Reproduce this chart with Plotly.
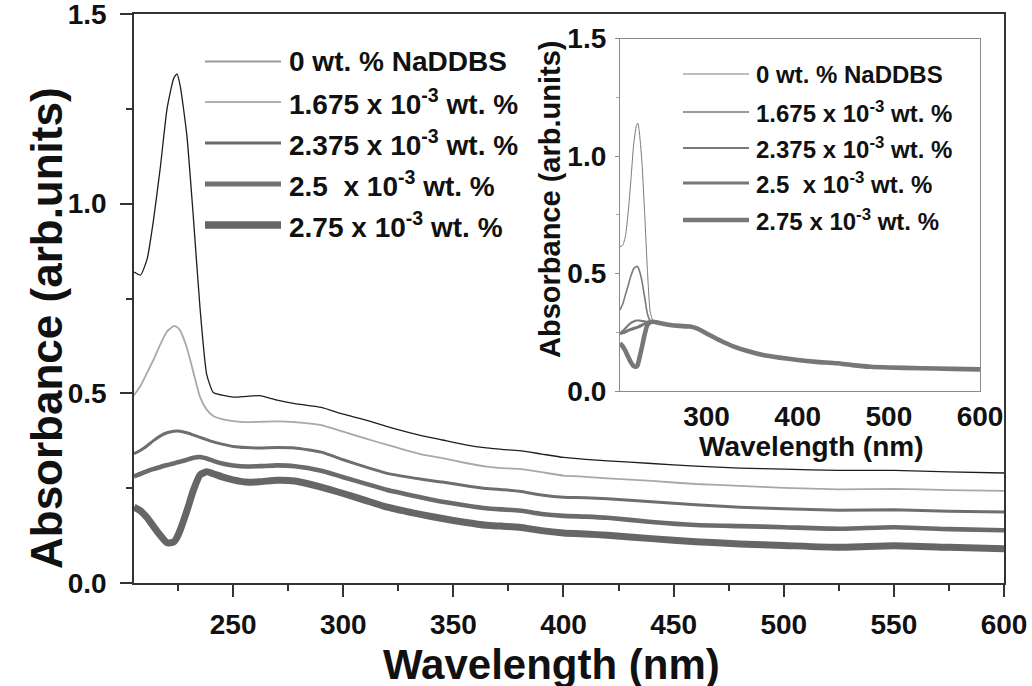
import plotly.graph_objects as go

# ---------------- data ----------------
wavelength = [205, 208, 211, 214, 217, 220, 223, 224.5, 226, 229, 232, 235, 238, 241, 245,
              250, 256, 262, 270, 278, 290, 300, 310, 320, 335, 345, 355, 365, 372, 380,
              390, 400, 410, 420, 440, 460, 480, 500, 525, 550, 575, 600]

abs_0 = [0.82, 0.812, 0.855, 0.963, 1.098, 1.25, 1.33, 1.342, 1.31, 1.18, 0.96, 0.723, 0.55, 0.502, 0.495,
         0.49, 0.492, 0.494, 0.482, 0.473, 0.463, 0.445, 0.43, 0.412, 0.389, 0.377, 0.365, 0.356, 0.352, 0.349,
         0.340, 0.331, 0.326, 0.322, 0.315, 0.308, 0.303, 0.300, 0.297, 0.297, 0.293, 0.290]
abs_1675 = [0.495, 0.52, 0.555, 0.59, 0.63, 0.663, 0.677, 0.675, 0.665, 0.62, 0.555, 0.49, 0.457, 0.44, 0.432,
            0.427, 0.424, 0.425, 0.426, 0.424, 0.416, 0.399, 0.381, 0.364, 0.340, 0.329, 0.317, 0.307, 0.303, 0.301,
            0.292, 0.283, 0.280, 0.276, 0.269, 0.261, 0.256, 0.251, 0.247, 0.248, 0.245, 0.243]
abs_2375 = [0.341, 0.35, 0.362, 0.376, 0.388, 0.396, 0.40, 0.401, 0.40, 0.396, 0.39, 0.384, 0.378, 0.372, 0.366,
            0.36, 0.357, 0.356, 0.357, 0.356, 0.345, 0.325, 0.306, 0.289, 0.274, 0.266, 0.257, 0.249, 0.246, 0.242,
            0.232, 0.226, 0.225, 0.222, 0.214, 0.206, 0.200, 0.196, 0.192, 0.193, 0.189, 0.187]
abs_25 = [0.281, 0.288, 0.295, 0.301, 0.306, 0.311, 0.315, 0.318, 0.32, 0.325, 0.33, 0.332, 0.328, 0.322, 0.315,
          0.31, 0.307, 0.308, 0.31, 0.308, 0.296, 0.279, 0.262, 0.245, 0.226, 0.214, 0.205, 0.197, 0.194, 0.191,
          0.182, 0.177, 0.175, 0.172, 0.161, 0.153, 0.150, 0.147, 0.143, 0.147, 0.142, 0.139]
abs_275 = [0.2, 0.19, 0.172, 0.148, 0.125, 0.106, 0.108, 0.12, 0.14, 0.19, 0.245, 0.285, 0.293, 0.288, 0.28,
           0.272, 0.266, 0.267, 0.271, 0.269, 0.253, 0.236, 0.218, 0.200, 0.181, 0.170, 0.160, 0.152, 0.150, 0.147,
           0.138, 0.132, 0.129, 0.126, 0.117, 0.109, 0.103, 0.099, 0.094, 0.098, 0.094, 0.090]

# inset: head region (per curve) and the common tail all curves share
inset_head_wl = [205, 208, 211, 214, 217, 220, 223, 224.5, 226, 229, 232, 235, 238, 241]
inset_head_0 = [0.614, 0.62, 0.66, 0.76, 0.90, 1.05, 1.13, 1.14, 1.11, 0.98, 0.76, 0.52, 0.34, 0.30]
inset_head_1675 = [0.345, 0.37, 0.41, 0.45, 0.49, 0.52, 0.53, 0.528, 0.515, 0.47, 0.40, 0.33, 0.30, 0.295]
inset_head_2375 = [0.245, 0.255, 0.267, 0.28, 0.29, 0.296, 0.30, 0.30, 0.30, 0.298, 0.296, 0.294, 0.293, 0.295]
inset_head_25 = [0.245, 0.248, 0.252, 0.258, 0.262, 0.266, 0.27, 0.272, 0.274, 0.28, 0.286, 0.292, 0.296, 0.295]
inset_head_275 = [0.203, 0.19, 0.17, 0.145, 0.122, 0.106, 0.104, 0.112, 0.135, 0.185, 0.24, 0.28, 0.292, 0.295]
inset_tail_wl = [245, 250, 260, 270, 282, 290, 300, 315, 330, 345, 362, 380, 400, 420, 443, 460, 480, 500, 535, 570, 600]
inset_tail_abs = [0.293, 0.288, 0.281, 0.277, 0.274, 0.265, 0.245, 0.215, 0.189, 0.170, 0.153, 0.142, 0.132,
                  0.124, 0.118, 0.110, 0.103, 0.100, 0.097, 0.094, 0.092]

legend_labels = ["0 wt. % NaDDBS",
                 "1.675 x 10<sup>-3</sup> wt. %",
                 "2.375 x 10<sup>-3</sup> wt. %",
                 "2.5  x 10<sup>-3</sup> wt. %",
                 "2.75 x 10<sup>-3</sup> wt. %"]
x_ticks_main = [250, 300, 350, 400, 450, 500, 550, 600]
y_ticks = [0.0, 0.5, 1.0, 1.5]
x_ticks_inset = [300, 400, 500, 600]

# ---------------- styling ----------------
W, H = 1032, 686
L, R, T, B = 134, 1004, 14, 583          # main plot area in pixels
FONT = "Liberation Sans, Arial, sans-serif"

main_styles = [("#1e1e1e", 1.3), ("#a8a8a8", 1.8), ("#6e6e6e", 3.0), ("#6b6b6b", 4.6), ("#666666", 7.0)]
legend_styles = [("#9a9a9a", 2.2), ("#b0b0b0", 2.2), ("#6a6a6a", 3.2), ("#707070", 5.0), ("#666666", 7.5)]
inset_styles = [("#7a7a7a", 1.0), ("#7a7a7a", 1.6), ("#7a7a7a", 2.2), ("#777777", 3.0), ("#777777", 4.6)]


def px(xp):
    return (xp - L) / (R - L)


def py(yp):
    return (B - yp) / (B - T)


fig = go.Figure()
main_series = [abs_0, abs_1675, abs_2375, abs_25, abs_275]
for vals, (col, w), name in zip(main_series, main_styles, legend_labels):
    fig.add_trace(go.Scatter(x=wavelength, y=vals, mode="lines", name=name,
                             line=dict(color=col, width=w, shape="spline", smoothing=0.5),
                             showlegend=False, xaxis="x", yaxis="y"))

inset_heads = [inset_head_0, inset_head_1675, inset_head_2375, inset_head_25, inset_head_275]
for head, (col, w), name in zip(inset_heads, inset_styles, legend_labels):
    fig.add_trace(go.Scatter(x=inset_head_wl + inset_tail_wl, y=head + inset_tail_abs, mode="lines",
                             name=name, line=dict(color=col, width=w, shape="spline", smoothing=0.5),
                             showlegend=False, xaxis="x2", yaxis="y2"))

tickfont = dict(family=FONT, size=28, color="#111", weight="bold")
axis_common = dict(showgrid=False, zeroline=False, showline=True, mirror=True, ticks="outside",
                   automargin=False, fixedrange=True, ticklabeloverflow="allow")

fig.update_layout(
    template="none",
    width=W, height=H,
    margin=dict(l=L, r=W - R, t=T, b=H - B, autoexpand=False),
    paper_bgcolor="white", plot_bgcolor="white",
    font=dict(family=FONT, color="#111"),
    showlegend=False,
    xaxis=dict(domain=[0, 1], range=[205, 600], tickvals=x_ticks_main, ticklen=12, tickwidth=1.5,
               linecolor="#333", linewidth=1.6, tickcolor="#333", tickfont=tickfont,
               minor=dict(dtick=25, tick0=0, ticklen=6, tickcolor="#333", ticks="outside", tickwidth=1.5),
               ticklabelstandoff=4, **axis_common),
    yaxis=dict(domain=[0, 1], range=[0, 1.5], tickvals=y_ticks, tickformat=".1f", ticklen=12, tickwidth=1.5,
               linecolor="#333", linewidth=1.6, tickcolor="#333", tickfont=tickfont,
               minor=dict(dtick=0.25, tick0=0, ticklen=6, tickcolor="#333", ticks="outside", tickwidth=1.5),
               ticklabelstandoff=8, **axis_common),
    xaxis2=dict(domain=[px(620), px(980)], anchor="y2", range=[205, 600], tickvals=x_ticks_inset,
                ticklen=0, linecolor="#8a8a8a", linewidth=1.2, tickfont=tickfont,
                ticklabelstandoff=0, **axis_common),
    yaxis2=dict(domain=[py(391), py(38.5)], anchor="x2", range=[0, 1.5], tickvals=y_ticks, tickformat=".1f",
                ticklen=4, tickcolor="#8a8a8a", linecolor="#8a8a8a", linewidth=1.2, tickfont=tickfont,
                minor=dict(dtick=0.25, tick0=0, ticklen=3, tickcolor="#aaa", ticks="outside"),
                ticklabelstandoff=3, **axis_common),
)

annotations = []
shapes = []
# axis titles
annotations.append(dict(text="<b>Wavelength (nm)</b>", x=px(551), y=py(664), xref="paper", yref="paper",
                        xanchor="center", yanchor="middle", showarrow=False,
                        font=dict(family=FONT, size=42, color="#111")))
annotations.append(dict(text="<b>Absorbance (arb.units)</b>", x=px(46), y=py(328), xref="paper", yref="paper",
                        xanchor="center", yanchor="middle", textangle=-90, showarrow=False,
                        font=dict(family=FONT, size=44, color="#111")))
annotations.append(dict(text="<b>Wavelength (nm)</b>", x=px(811), y=py(446), xref="paper", yref="paper",
                        xanchor="center", yanchor="middle", showarrow=False,
                        font=dict(family=FONT, size=28, color="#111")))
annotations.append(dict(text="<b>Absorbance (arb.units)</b>", x=px(550), y=py(200), xref="paper", yref="paper",
                        xanchor="center", yanchor="middle", textangle=-90, showarrow=False,
                        font=dict(family=FONT, size=29, color="#111")))

# main legend
main_leg_y = [61.5, 102, 143, 184, 225]
for yy, (col, w), lab in zip(main_leg_y, legend_styles, legend_labels):
    shapes.append(dict(type="line", xref="paper", yref="paper", x0=px(205), x1=px(281), y0=py(yy), y1=py(yy),
                       line=dict(color=col, width=w)))
    annotations.append(dict(text="<b>" + lab + "</b>", x=px(287), y=py(yy), xref="paper", yref="paper",
                            xanchor="left", yanchor="middle", showarrow=False,
                            font=dict(family=FONT, size=28, color="#111")))

# inset legend
inset_leg_y = [74, 112, 148, 183, 220]
for yy, (col, w), lab in zip(inset_leg_y, inset_styles, legend_labels):
    shapes.append(dict(type="line", xref="paper", yref="paper", x0=px(683), x1=px(749), y0=py(yy), y1=py(yy),
                       line=dict(color=col, width=w)))
    annotations.append(dict(text="<b>" + lab + "</b>", x=px(754), y=py(yy), xref="paper", yref="paper",
                            xanchor="left", yanchor="middle", showarrow=False,
                            font=dict(family=FONT, size=24, color="#111")))

fig.update_layout(annotations=annotations, shapes=shapes)
fig.write_html("out.html")
